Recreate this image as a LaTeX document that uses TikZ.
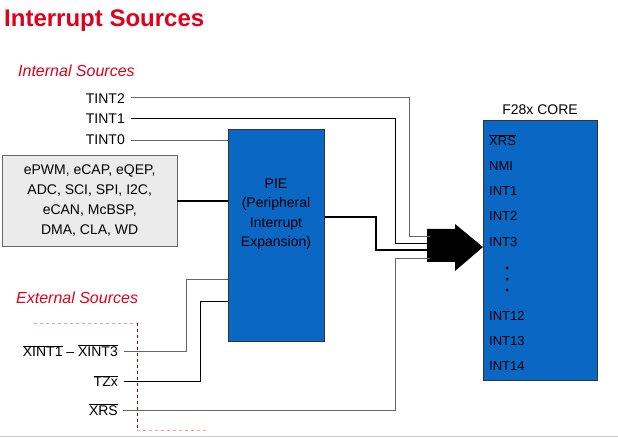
\documentclass[tikz,border=0pt]{standalone}
\usepackage{fontspec}
\setmainfont{Liberation Sans}
\begin{document}
\begin{tikzpicture}[x=1pt,y=-1pt,
  lbl/.style={font=\fontsize{14}{16}\selectfont,inner sep=0pt},
  thin/.style={draw=black!60,line width=0.8pt},
  thinb/.style={draw=black,line width=0.8pt},
  thick/.style={draw=black,line width=2.4pt},
  blue/.style={fill=corebl,draw=black!80,line width=0.8pt},
  red/.style={text=titred,font=\fontsize{16}{18}\selectfont\itshape,inner sep=0pt}]
\definecolor{corebl}{HTML}{0A67C4}
\definecolor{titred}{HTML}{E0001B}
\useasboundingbox (0,0) rectangle (618,438);
\fill[white] (0,0) rectangle (618,438);
\draw[black!20] (0,436.5) -- (618,436.5);
\node[anchor=west,text=titred,font=\fontsize{24}{28}\selectfont\bfseries,inner sep=0pt] (title) at (4,21) {Interrupt Sources};
\node[red,anchor=west] (int) at (18,71) {Internal Sources};
\node[red,anchor=west] (ext) at (16,298) {External Sources};
% labels
\node[lbl,anchor=east] (t2) at (125,99) {TINT2};
\node[lbl,anchor=east] (t1) at (125,119) {TINT1};
\node[lbl,anchor=east] (t0) at (125,140) {TINT0};
\node[lbl,anchor=east] (xi) at (118,351) {$\overline{\mbox{XINT1}}$ -- $\overline{\mbox{XINT3}}$};
\node[lbl,anchor=east] (tz) at (118,381) {$\overline{\mbox{TZx}}$};
\node[lbl,anchor=east] (xr) at (118,410) {$\overline{\mbox{XRS}}$};
% boxes
\node[draw=black!60,fill=black!8,minimum width=175pt,minimum height=91pt,anchor=north west,inner sep=0pt] (per) at (2,155) {};
\node[lbl,align=center,font=\fontsize{14}{20}\selectfont] at (per.center) {ePWM, eCAP, eQEP,\\ADC, SCI, SPI, I2C,\\eCAN, McBSP,\\DMA, CLA, WD};
\node[blue,minimum width=96pt,minimum height=212pt,anchor=north west,inner sep=0pt] (pie) at (228,129) {};
\node[lbl,align=center,font=\fontsize{14}{19.5}\selectfont] at (276,214) {PIE\\(Peripheral\\Interrupt\\Expansion)};
\node[blue,minimum width=114pt,minimum height=260pt,anchor=north west,inner sep=0pt] (core) at (483,120) {};
\node[lbl] (cl) at (540,110) {F28x CORE};
\foreach \t/\y in {NMI/166,INT1/191,INT2/216,INT3/242,INT12/316,INT13/341,INT14/366}
  \node[lbl,anchor=west,font=\fontsize{13}{15}\selectfont] at (489,\y) {\t};
\node[lbl,anchor=west,font=\fontsize{13}{15}\selectfont] at (489,140) {$\overline{\mbox{XRS}}$};
\foreach \y in {268,279,290} \fill (507,\y) circle (1.5pt);
% arrow
\fill (427,229) -- (455,229) -- (455,224) -- (483,247) -- (455,271) -- (455,262) -- (427,262) -- cycle;
\coordinate (ar) at (430,247);
% connectors
\draw[thin] (t2.east)++(6,-2) coordinate (a) -- (409,97) -- (409,236) -- (430,236);
\draw[thinb] (t1.east)++(6,-1) -- (395,118) -- (395,243) -- (430,243);
\draw[thin] (t0.east)++(6,0) -- (pie.west |- t0.east);
\draw[thick] (per.east |- 0,201) -- (pie.west |- 0,201);
\draw[thick] (pie.east |- 0,217) -- (376,217) -- (376,250) -- (430,250);
\draw[thin] (xr.east)++(5,0) -- (395,410) -- (395,258) -- (430,258);
\draw[thin] (xi.east)++(6,0) -- (186,351) -- (186,279) -- (pie.west |- 0,279);
\draw[thinb] (tz.east)++(6,0) -- (200,381) -- (200,301) -- (pie.west |- 0,301);
% dashed region
\draw[pink!80!red,dashed,line width=0.8pt] (34,323) -- (137,323);
\draw[red!60!black,dashed,line width=0.8pt] (137,323) -- (137,430);
\draw[pink!80!red,dashed,line width=0.8pt] (137,430) -- (208,430);
\end{tikzpicture}
\end{document}
